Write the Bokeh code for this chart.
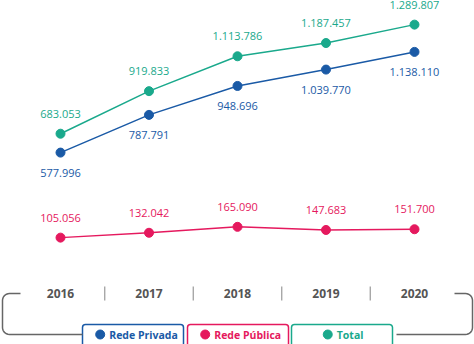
import numpy as np
from bokeh.plotting import figure
from bokeh.models import Range1d, BoxAnnotation
from bokeh.core.properties import value
from bokeh.embed import file_html
from bokeh.resources import INLINE

years = [2016, 2017, 2018, 2019, 2020]
year_labels = ["2016", "2017", "2018", "2019", "2020"]
rede_privada = [577996, 787791, 948696, 1039770, 1138110]
rede_publica = [105056, 132042, 165090, 147683, 151700]
total = [683053, 919833, 1113786, 1187457, 1289807]
series_names = ["Rede Privada", "Rede Pública", "Total"]

BLUE = "#1a5aa6"
PINK = "#e5195e"
TEAL = "#1aa98c"
GRAY = "#555555"
FONT = value("Open Sans")

def fmt(v):
    return f"{v:,}".replace(",", ".")

p = figure(width=474, height=344, output_backend="svg", toolbar_location=None,
           x_range=Range1d(2015.322, 2020.678), y_range=Range1d(-489400, 1424000),
           min_border=0, outline_line_color=None)
p.axis.visible = False
p.grid.visible = False
p.extra_x_ranges = {"px": Range1d(0, 474)}
p.extra_y_ranges = {"px": Range1d(344, 0)}

for vals, col, off in [(rede_privada, BLUE, 20), (rede_publica, PINK, -20), (total, TEAL, -20)]:
    p.line(years, vals, line_color=col, line_width=1.5)
    p.scatter(years, vals, size=9, fill_color=col, line_color=col)
    p.text(years, vals, text=[fmt(v) for v in vals], y_offset=off,
           text_align="center", text_baseline="middle", text_color=col,
           text_font=FONT, text_font_size="11px")

# year labels (category axis)
p.text(years, [293] * len(years), text=year_labels, y_range_name="px",
       text_align="center", text_baseline="middle", text_color=GRAY,
       text_font=FONT, text_font_size="12px", text_font_style="bold")
seps = [(a + b) / 2 for a, b in zip(years[:-1], years[1:])]
p.segment(x0=seps, y0=[286] * len(seps), x1=seps, y1=[300] * len(seps),
          y_range_name="px", line_color="#999999", line_width=1.2)

# bracket
def arc(cx, cy, r, a0, a1, n=8):
    t = np.linspace(a0, a1, n)
    return list(cx + r * np.cos(t)), list(cy + r * np.sin(t))

r = 7
lx1, ly1 = arc(2 + r, 293 + r, r, -np.pi / 2, -np.pi)
lx2, ly2 = arc(2 + r, 334 - r, r, np.pi, np.pi / 2)
left_x = [20] + lx1 + lx2 + [82]
left_y = [293] + ly1 + ly2 + [334]
rx1, ry1 = arc(472 - r, 293 + r, r, -np.pi / 2, 0)
rx2, ry2 = arc(472 - r, 334 - r, r, 0, np.pi / 2)
right_x = [454] + rx1 + rx2 + [396]
right_y = [293] + ry1 + ry2 + [334]
p.multi_line([left_x, right_x], [left_y, right_y], x_range_name="px", y_range_name="px",
             line_color="#666666", line_width=1.5)

# legend boxes
boxes = [(82, 183), (187, 288), (291, 392)]
cols = [BLUE, PINK, TEAL]
for (l, rr), col, name in zip(boxes, cols, series_names):
    p.add_layout(BoxAnnotation(left=l, right=rr, top=324, bottom=346,
                               x_range_name="px", y_range_name="px",
                               fill_color="white", fill_alpha=1,
                               line_color=col, line_alpha=1, line_width=1.5,
                               border_radius=3, level="underlay"))
    cx = (l + rr) / 2
    w = len(name) * 5.3 + 10
    dx = cx - w / 2 + 4
    p.scatter([dx], [334], x_range_name="px", y_range_name="px", size=9,
              fill_color=col, line_color=col)
    p.text([dx + 9], [334], text=[name], x_range_name="px", y_range_name="px",
           text_align="left", text_baseline="middle", text_color=col,
           text_font=FONT, text_font_size="10.5px", text_font_style="bold")

open("out.html", "w").write(file_html(p, INLINE))
